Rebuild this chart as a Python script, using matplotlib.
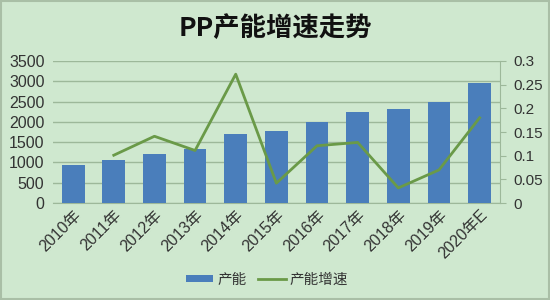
import numpy as np
import matplotlib.pyplot as plt
from matplotlib.patches import Rectangle

# 数据
years = ['2010年', '2011年', '2012年', '2013年', '2014年', '2015年',
         '2016年', '2017年', '2018年', '2019年', '2020年E']
capacity = [950, 1050, 1220, 1330, 1690, 1775, 2000, 2230, 2320, 2500, 2950]
growth = [np.nan, 0.101, 0.141, 0.111, 0.272, 0.042, 0.121, 0.128, 0.032, 0.070, 0.180]

bg = '#cfe8cf'
bar_color = '#4a7ebb'
line_color = '#6a9a48'
grid_color = '#9db89a'

plt.rcParams['font.family'] = ['Liberation Sans', 'Noto Sans CJK SC', 'DejaVu Sans']

fig = plt.figure(figsize=(5.5, 3), dpi=100, facecolor=bg)
ax = fig.add_axes([0.096, 0.323, 0.813, 0.474])
ax.set_facecolor(bg)

x = np.arange(len(years))
bars = ax.bar(x, capacity, width=0.56, color=bar_color, label='产能', zorder=3)
ax.set_ylim(0, 3500)
ax.set_yticks(range(0, 3501, 500))
ax.set_xlim(-0.5, len(years) - 0.5)
ax.grid(axis='y', color=grid_color, lw=1, zorder=0)
for s in ['top', 'left', 'right']:
    ax.spines[s].set_visible(False)
ax.spines['bottom'].set_color(grid_color)
ax.tick_params(axis='y', length=0, labelsize=11.5, colors='#333333', pad=6)
ax.tick_params(axis='x', length=0, colors='#333333', pad=3)
ax.set_xticks(x)
ax.set_xticklabels(years, rotation=45, ha='right', rotation_mode='anchor',
                   family=['Liberation Sans', 'Noto Sans CJK SC'], fontsize=11.5)

ax2 = ax.twinx()
line, = ax2.plot(x, growth, color=line_color, lw=2, label='产能增速', zorder=4)
ax2.set_ylim(0, 0.3)
ax2.set_yticks([0, 0.05, 0.1, 0.15, 0.2, 0.25, 0.3])
ax2.set_yticklabels(['0', '0.05', '0.1', '0.15', '0.2', '0.25', '0.3'])
for s in ['top', 'left', 'bottom']:
    ax2.spines[s].set_visible(False)
ax2.spines['right'].set_color(grid_color)
ax2.tick_params(axis='y', direction='out', length=4, colors=grid_color,
                labelcolor='#333333', labelsize=11, pad=6)

fig.text(0.5, 0.905, 'PP产能增速走势', ha='center', va='center', fontsize=19,
         fontweight='bold', family=['Noto Sans CJK SC'], color='#111111')

fig.legend([bars, line], ['产能', '产能增速'], loc='center', bbox_to_anchor=(0.485, 0.068),
           ncol=2, frameon=False, prop={'family': 'Noto Sans CJK SC', 'size': 10.5},
           handlelength=1.9, handleheight=0.4, columnspacing=0.8, handletextpad=0.25,
           labelcolor='#333333')

# 外框
fig.patches.append(Rectangle((0.002, 0.003), 0.996, 0.994, transform=fig.transFigure,
                             fill=False, edgecolor='#a9bfa6', lw=1.5))

fig.savefig('out.png', dpi=100, facecolor=bg)
